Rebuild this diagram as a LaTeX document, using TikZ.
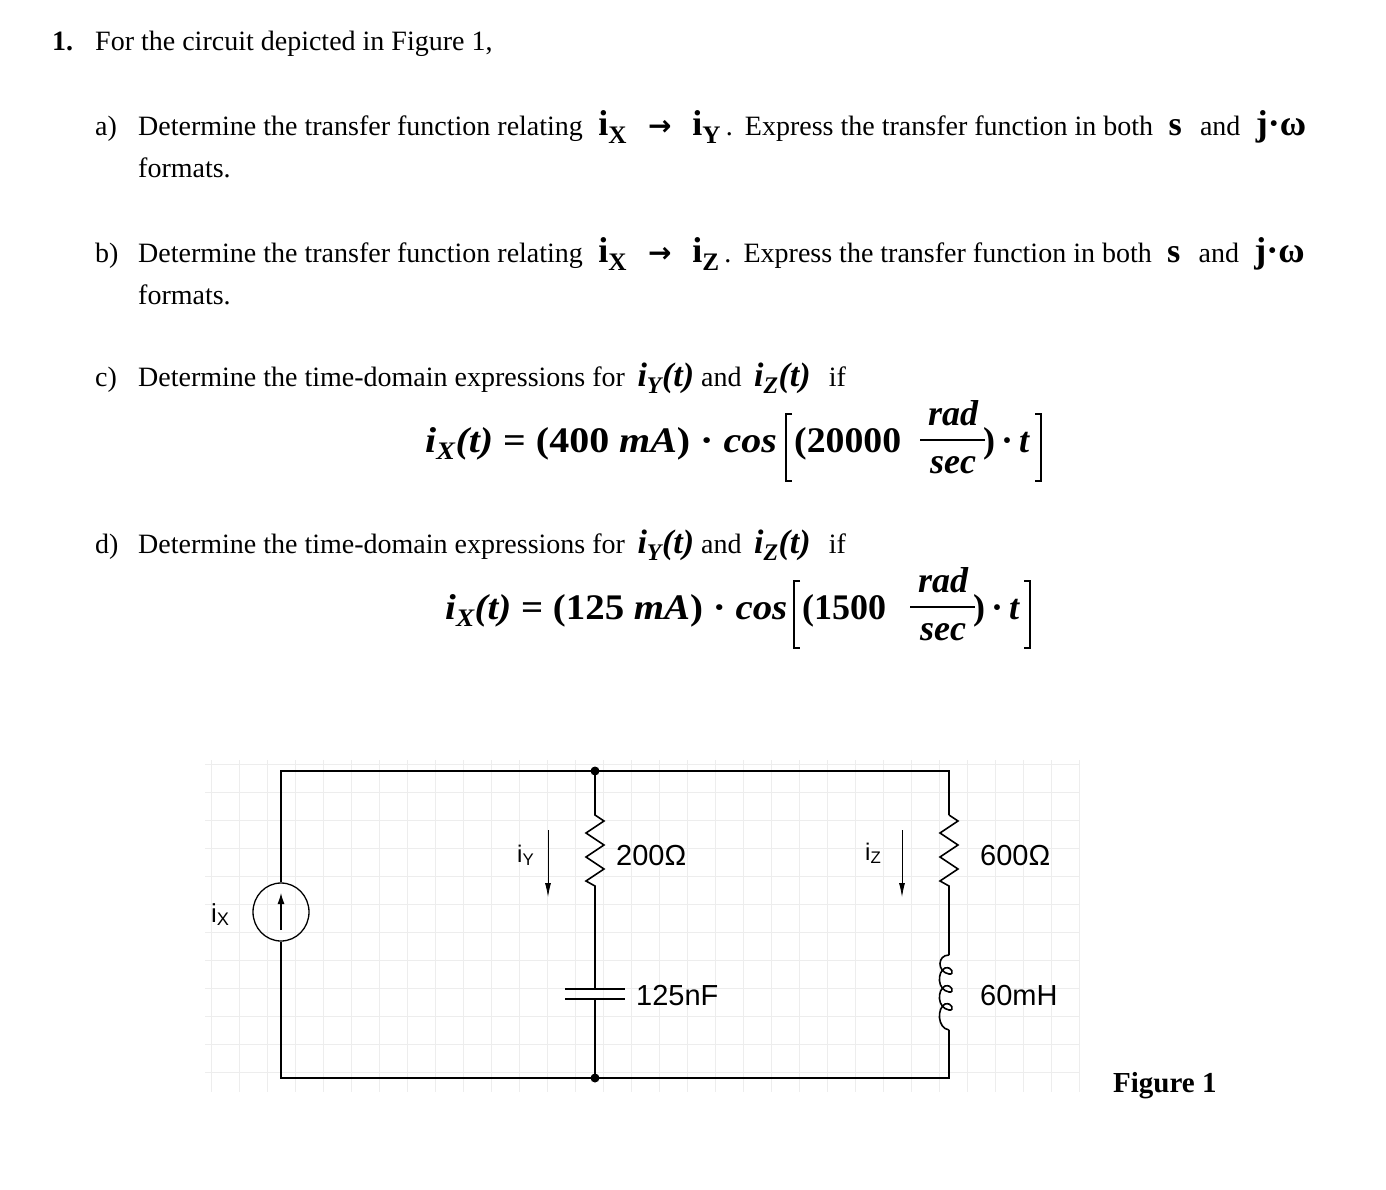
\documentclass[tikz,border=0pt]{standalone}
\usepackage{fontspec}
\usepackage{graphicx}
\setmainfont{Liberation Serif}
\newfontfamily\circfont{Liberation Sans}
\newfontfamily\symfont{DejaVu Sans}
\usetikzlibrary{arrows.meta,shapes.geometric}
\begin{document}
\begin{tikzpicture}[x=1pt,y=-1pt,
  txt/.style={anchor=base west,inner sep=0pt,font=\fontsize{28}{30}\selectfont},
  eq/.style={anchor=base west,inner sep=0pt,font=\fontsize{36}{38}\selectfont\bfseries\itshape},
  wire/.style={line width=1.6pt},
  lab/.style={anchor=base west,inner sep=0pt,font=\fontsize{29}{30}\selectfont\circfont},
  cur/.style={line width=0.8pt,-{Latex[length=14pt,width=6pt]}},
  dot/.style={circle,fill,inner sep=0pt,minimum size=9pt}]
\useasboundingbox (0,0) rectangle (1386,1190);
% text
\node[txt,font=\fontsize{28}{30}\selectfont\bfseries] (n1) at (52,51) {1.};
\node[txt] (t1) at (95,51) {For the circuit depicted in Figure 1,};
\node[txt] (la) at (95,136) {a)};
\node[txt] (ta) at (138,136) {Determine the transfer function relating \hspace{0.3em}\textbf{\fontsize{36}{30}\selectfont i\textsubscript{X}} \hspace{0.5em}{\symfont\bfseries →}\hspace{0.5em} \textbf{\fontsize{36}{30}\selectfont i\textsubscript{Y}}\,. \hspace{0.1em}Express the transfer function in both \hspace{0.3em}\textbf{\fontsize{34}{30}\selectfont s}\hspace{0.4em} and \hspace{0.3em}\textbf{\fontsize{36}{30}\selectfont j·ω}};
\node[txt] (fa) at (138,178) {formats.};
\node[txt] (lb) at (95,263) {b)};
\node[txt] (tb) at (138,263) {Determine the transfer function relating \hspace{0.3em}\textbf{\fontsize{36}{30}\selectfont i\textsubscript{X}} \hspace{0.5em}{\symfont\bfseries →}\hspace{0.5em} \textbf{\fontsize{36}{30}\selectfont i\textsubscript{Z}}\,. \hspace{0.1em}Express the transfer function in both \hspace{0.3em}\textbf{\fontsize{34}{30}\selectfont s}\hspace{0.4em} and \hspace{0.3em}\textbf{\fontsize{36}{30}\selectfont j·ω}};
\node[txt] (fb) at (138,305) {formats.};
\node[txt] (lc) at (95,386) {c)};
\node[txt] (tc) at (138,386) {Determine the time-domain expressions for \hspace{0.2em}{\fontsize{34}{30}\selectfont\bfseries\itshape i\textsubscript{Y}(t)} and \hspace{0.2em}{\fontsize{34}{30}\selectfont\bfseries\itshape i\textsubscript{Z}(t)}\hspace{0.4em} if};
\node[txt] (ld) at (95,553) {d)};
\node[txt] (td) at (138,553) {Determine the time-domain expressions for \hspace{0.2em}{\fontsize{34}{30}\selectfont\bfseries\itshape i\textsubscript{Y}(t)} and \hspace{0.2em}{\fontsize{34}{30}\selectfont\bfseries\itshape i\textsubscript{Z}(t)}\hspace{0.4em} if};
% eq 1
\node[eq] (e1a) at (425,452) {\scalebox{1.11}[1]{i\textsubscript{X}(t) \textup{= (400} mA\textup{)} \textup{·} cos}};
\draw[line width=1.2pt] (792,414) -- (786,414) -- (786,481) -- (792,481);
\node[eq] (e1b) at (794,452) {\scalebox{1.05}[1]{\textup{(20000}}};
\node[eq,anchor=base] (e1r) at (953,425) {rad};
\draw[line width=1.2pt] (920,440) -- (985,440);
\node[eq,anchor=base] (e1s) at (953,473) {sec};
\node[eq] (e1c) at (983,452) {\textup{)\,·\,}t};
\draw[line width=1.2pt] (1035,414) -- (1041,414) -- (1041,481) -- (1035,481);
% eq 2
\node[eq] (e2a) at (445,619) {\scalebox{1.08}[1]{i\textsubscript{X}(t) \textup{= (125} mA\textup{)} \textup{·} cos}};
\draw[line width=1.2pt] (800,581) -- (794,581) -- (794,648) -- (800,648);
\node[eq] (e2b) at (802,619) {\textup{(1500}};
\node[eq,anchor=base] (e2r) at (943,592) {rad};
\draw[line width=1.2pt] (910,607) -- (975,607);
\node[eq,anchor=base] (e2s) at (943,640) {sec};
\node[eq] (e2c) at (973,619) {\textup{)\,·\,}t};
\draw[line width=1.2pt] (1024,581) -- (1030,581) -- (1030,648) -- (1024,648);
% grid
\foreach \gx in {0,...,31} \draw[black!7,line width=0.8pt] (211+28*\gx,760) -- (211+28*\gx,1092);
\foreach \gy in {0,...,11} \draw[black!7,line width=0.8pt] (205,764+28*\gy) -- (1080,764+28*\gy);
% circuit
\coordinate (TL) at (281,771); \coordinate (TM) at (595,771); \coordinate (TR) at (949,771);
\coordinate (BL) at (281,1078); \coordinate (BM) at (595,1078); \coordinate (BR) at (949,1078);
\node[draw,line width=1.3pt,ellipse,minimum width=56pt,minimum height=58pt,inner sep=0pt] (src) at (281,912) {};
\draw[line width=1.2pt,-{Latex[length=11pt,width=7pt]}] (281,930) -- (281,893);
\draw[wire] (src.north) -- (TL) -- (TR) -- (949,815);
\draw[wire] (src.south) -- (BL) -- (BR) -- (949,1030);
\node[dot] (d1) at (TM) {}; \node[dot] (d2) at (BM) {};
% 200 ohm
\draw[wire] (TM) -- (595,815) -- (604,821) -- (586,833) -- (604,845) -- (586,857) -- (604,869) -- (586,881) -- (595,886) -- (595,989);
\draw[wire] (565,989) -- (625,989); \draw[wire] (565,999) -- (625,999);
\draw[wire] (595,999) -- (BM);
% 600 ohm
\draw[wire] (949,815) -- (958,821) -- (940,833) -- (958,845) -- (940,857) -- (958,869) -- (940,881) -- (949,886) -- (949,955);
% inductor
\draw[wire] (949,955)
  .. controls (937,955) and (937,972) .. (949,974)
  .. controls (955,975) and (952,966) .. (945,968)
  .. controls (937,972) and (937,990) .. (949,992)
  .. controls (955,993) and (952,984) .. (945,986)
  .. controls (937,990) and (937,1008) .. (949,1010)
  .. controls (955,1011) and (952,1002) .. (945,1004)
  .. controls (937,1008) and (937,1028) .. (949,1030);
% currents
\draw[cur] (548,830) -- (548,897);
\draw[cur] (902,830) -- (902,897);
\node[lab,font=\fontsize{24}{24}\selectfont\circfont] (liy) at (517,862) {i\textsubscript{Y}};
\node[lab,font=\fontsize{24}{24}\selectfont\circfont] (liz) at (865,860) {i\textsubscript{Z}};
\node[lab,font=\fontsize{26}{26}\selectfont\circfont] (lix) at (211,922) {i\textsubscript{X}};
\node[lab] (r1) at (616,865) {200Ω};
\node[lab] (r2) at (980,865) {600Ω};
\node[lab] (c1) at (636,1005) {125nF};
\node[lab] (l1) at (980,1005) {60mH};
\node[txt,font=\fontsize{29}{30}\selectfont\bfseries] (fig) at (1113,1092) {Figure 1};
\end{tikzpicture}
\end{document}
